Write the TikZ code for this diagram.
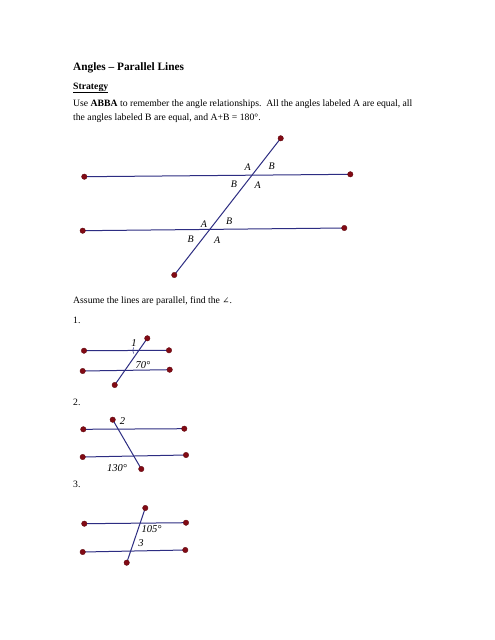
\documentclass[tikz,border=0pt]{standalone}
\usepackage{fontspec}
\setmainfont{Liberation Serif}
\newfontfamily\symfont{DejaVu Serif}
\definecolor{ln}{RGB}{45,45,130}
\definecolor{ptc}{RGB}{130,10,20}
\begin{document}
\begin{tikzpicture}[x=1pt,y=-1pt,
  dot/.style={circle,fill=ptc,draw=ptc!70!black,line width=0.3pt,inner sep=0pt,minimum size=5.5pt},
  seg/.style={draw=ln,line width=1pt},
  lab/.style={font=\fontsize{10}{11}\selectfont\itshape,inner sep=0pt},
  num/.style={font=\fontsize{10.5}{12}\selectfont\itshape,inner sep=0pt},
  txt/.style={anchor=base west,inner sep=0pt,font=\fontsize{9.7}{11.5}\selectfont}]
\useasboundingbox[fill=white] (0,0) rectangle (495,640);

% texts
\node[txt,font=\fontsize{11.3}{13}\selectfont\bfseries] (title) at (73,70) {Angles -- Parallel Lines};
\node[txt,font=\fontsize{9.7}{11.5}\selectfont\bfseries] (strat) at (73,89) {\underline{Strategy}};
\node[txt] (body1) at (73,106.5) {Use \textbf{ABBA} to remember the angle relationships.\ \ All the angles labeled A are equal, all};
\node[txt] (body2) at (73,120.5) {the angles labeled B are equal, and A+B = 180°.};
\node[txt] (assume) at (73,303.5) {Assume the lines are parallel, find the {\symfont\fontsize{8.5}{10}\selectfont ∠}.};
\node[txt] (n1) at (73,323) {1.};
\node[txt] (n2) at (73,405) {2.};
\node[txt] (n3) at (73,487.5) {3.};

% diagram 0
\coordinate (aL) at (84.3,176.7);
\coordinate (aR) at (350.3,174.3);
\coordinate (bL) at (82.7,230.7);
\coordinate (bR) at (344.3,228);
\coordinate (tT) at (280.7,138.3);
\coordinate (tB) at (174.3,275);
\draw[seg] (aL) -- (aR);
\draw[seg] (bL) -- (bR);
\draw[seg] (tT) -- (tB);
\foreach \p in {aL,aR,bL,bR,tT,tB} \node[dot] (d\p) at (\p) {};
\node[lab] (l1) at (247.7,167.3) {A};
\node[lab] (l2) at (271.7,166.3) {B};
\node[lab] (l3) at (234,184.3) {B};
\node[lab] (l4) at (257.7,185) {A};
\node[lab] (l5) at (204,224) {A};
\node[lab] (l6) at (229.3,221.7) {B};
\node[lab] (l7) at (190.7,239.3) {B};
\node[lab] (l8) at (217.3,239.7) {A};

% problem 1
\coordinate (p1a) at (84,350.7);
\coordinate (p1b) at (169,350.3);
\coordinate (p1c) at (82.7,371);
\coordinate (p1d) at (169.7,369.7);
\coordinate (p1e) at (147.3,338.3);
\coordinate (p1f) at (114.7,385);
\draw[seg] (p1a) -- (p1b);
\draw[seg] (p1c) -- (p1d);
\draw[seg] (p1e) -- (p1f);
\foreach \p in {p1a,p1b,p1c,p1d,p1e,p1f} \node[dot] (d\p) at (\p) {};
\draw[ln,line width=0.5pt] (138.8,350.5) ++(150:6) arc[start angle=150,end angle=210,radius=6];
\node[num] (q1) at (134,343) {1};
\node[num] (q1b) at (143,365) {70°};

% problem 2
\coordinate (p2a) at (83.3,429.3);
\coordinate (p2b) at (184.3,428.7);
\coordinate (p2c) at (82.7,457);
\coordinate (p2d) at (186,455);
\coordinate (p2e) at (112.7,419.7);
\coordinate (p2f) at (141.3,469);
\draw[seg] (p2a) -- (p2b);
\draw[seg] (p2c) -- (p2d);
\draw[seg] (p2e) -- (p2f);
\foreach \p in {p2a,p2b,p2c,p2d,p2e,p2f} \node[dot] (d\p) at (\p) {};
\node[num] (q2) at (122.5,421) {2};
\node[num] (q2b) at (117,468.5) {130°};

% problem 3
\coordinate (p3a) at (84.3,523.7);
\coordinate (p3b) at (186,522.7);
\coordinate (p3c) at (82.7,552);
\coordinate (p3d) at (185.3,550);
\coordinate (p3e) at (145.3,508);
\coordinate (p3f) at (126.7,562.7);
\draw[seg] (p3a) -- (p3b);
\draw[seg] (p3c) -- (p3d);
\draw[seg] (p3e) -- (p3f);
\foreach \p in {p3a,p3b,p3c,p3d,p3e,p3f} \node[dot] (d\p) at (\p) {};
\node[num] (q3) at (151.5,529.5) {105°};
\node[num] (q3b) at (141,543.3) {3};
\end{tikzpicture}
\end{document}
